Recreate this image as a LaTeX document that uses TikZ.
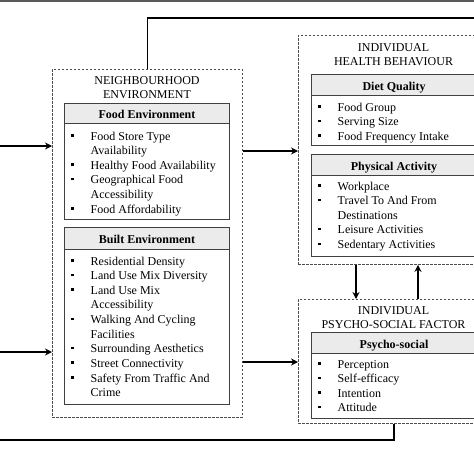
\documentclass[tikz,border=0pt]{standalone}
\usepackage{fontspec}
\setmainfont{Liberation Serif}
\usetikzlibrary{arrows.meta}
\newcommand{\sqb}{\rule[3.5pt]{2.6pt}{2.6pt}}
\newcommand{\bi}{\makebox[26.5pt][l]{\hspace{7.2pt}\sqb}&}
\newcommand{\bc}{\makebox[26.5pt]{}&}
\newcommand{\blist}[1]{{\fontsize{12}{14.65}\selectfont\begin{tabular}[t]{@{}l@{}l@{}}#1\end{tabular}}}
\newcommand{\ttl}[1]{{\fontsize{12}{14.2}\selectfont\begin{tabular}[t]{@{}c@{}}#1\end{tabular}}}
\begin{document}
\begin{tikzpicture}[x=1pt,y=-1pt,
  outerbox/.style={draw=black!70, line width=0.8pt, dash pattern=on 2.4pt off 1.6pt, inner sep=0pt, anchor=north west, minimum width=190pt},
  hdr/.style={draw=black!75, line width=1pt, fill=black!8, inner sep=0pt, anchor=north west, minimum width=165pt, font=\fontsize{12}{14}\selectfont\bfseries, text height=10pt, text depth=0pt},
  bodybox/.style={draw=black!75, line width=1pt, inner sep=0pt, anchor=north west, minimum width=165pt},
  listnode/.style={inner sep=0pt, anchor=base west},
  titlenode/.style={inner sep=0pt, anchor=base},
  conn/.style={line width=1.6pt, black},
  arr/.style={conn, -{Stealth[length=7pt,width=7pt]}}]
\useasboundingbox (0,0) rectangle (474,474);
\clip (0,0) rectangle (474,474);
\fill[black!65] (0,0) rectangle (474,2);

% outer dashed boxes
\node[outerbox, minimum height=348pt] (nb) at (52,69) {};
\node[outerbox, minimum height=229pt] (hb) at (298,35) {};
\node[outerbox, minimum height=124pt] (ps) at (298,299) {};

% titles
\node[titlenode] (nbt) at (147,84) {\ttl{NEIGHBOURHOOD\\ENVIRONMENT}};
\node[titlenode] (hbt) at (393.5,51) {\ttl{INDIVIDUAL\\HEALTH BEHAVIOUR}};
\node[titlenode] (pst) at (393.5,314) {\ttl{INDIVIDUAL\\PSYCHO-SOCIAL FACTOR}};

% neighbourhood inner boxes
\node[hdr, minimum height=20pt] (feh) at (64,103) {Food Environment};
\node[bodybox, minimum height=96pt] (feb) at (64,123) {};
\node[listnode] (fel) at (64,140) {\blist{\bi Food Store Type\\ \bc Availability\\ \bi Healthy Food Availability\\ \bi Geographical Food\\ \bc Accessibility\\ \bi Food Affordability}};

\node[hdr, minimum height=22pt] (beh) at (64,227) {Built Environment};
\node[bodybox, minimum height=155pt] (beb) at (64,249) {};
\node[listnode] (bel) at (64,265) {\blist{\bi Residential Density\\ \bi Land Use Mix Diversity\\ \bi Land Use Mix\\ \bc Accessibility\\ \bi Walking And Cycling\\ \bc Facilities\\ \bi Surrounding Aesthetics\\ \bi Street Connectivity\\ \bi Safety From Traffic And\\ \bc Crime}};

% health behaviour inner boxes
\node[hdr, minimum height=21pt] (dqh) at (311,74) {Diet Quality};
\node[bodybox, minimum height=50pt] (dqb) at (311,95) {};
\node[listnode] (dql) at (311,111) {\blist{\bi Food Group\\ \bi Serving Size\\ \bi Food Frequency Intake}};

\node[hdr, minimum height=21pt] (pah) at (311,154) {Physical Activity};
\node[bodybox, minimum height=81pt] (pab) at (311,175) {};
\node[listnode] (pal) at (311,190) {\blist{\bi Workplace\\ \bi Travel To And From\\ \bc Destinations\\ \bi Leisure Activities\\ \bi Sedentary Activities}};

% psycho-social inner box
\node[hdr, minimum height=21pt] (psh) at (311,332) {Psycho-social};
\node[bodybox, minimum height=65pt] (psb) at (311,353) {};
\node[listnode] (psl) at (311,368) {\blist{\bi Perception\\ \bi Self-efficacy\\ \bi Intention\\ \bi Attitude}};

% helper coordinates
\coordinate (inA) at (-2,146);
\coordinate (inB) at (-2,352);
\coordinate (yA) at (0,151);
\coordinate (yB) at (0,362);
\coordinate (xD) at (356,0);
\coordinate (xU) at (418,0);
\coordinate (xF) at (394,0);
\coordinate (fbR) at (500,18);
\coordinate (fbL) at (-5,440);

% connectors
\draw[arr] (inA) -- (nb.west |- inA);
\draw[arr] (inB) -- (nb.west |- inB);
\draw[arr] (nb.east |- yA) -- (hb.west |- yA);
\draw[arr] (nb.east |- yB) -- (ps.west |- yB);
\draw[arr] (hb.south -| xD) -- (ps.north -| xD);
\draw[arr] (ps.north -| xU) -- (hb.south -| xU);
\draw[conn] (fbR) -- (nb.north |- fbR) -- (nb.north);
\draw[conn] (ps.south -| xF) |- (fbL);
\end{tikzpicture}
\end{document}
